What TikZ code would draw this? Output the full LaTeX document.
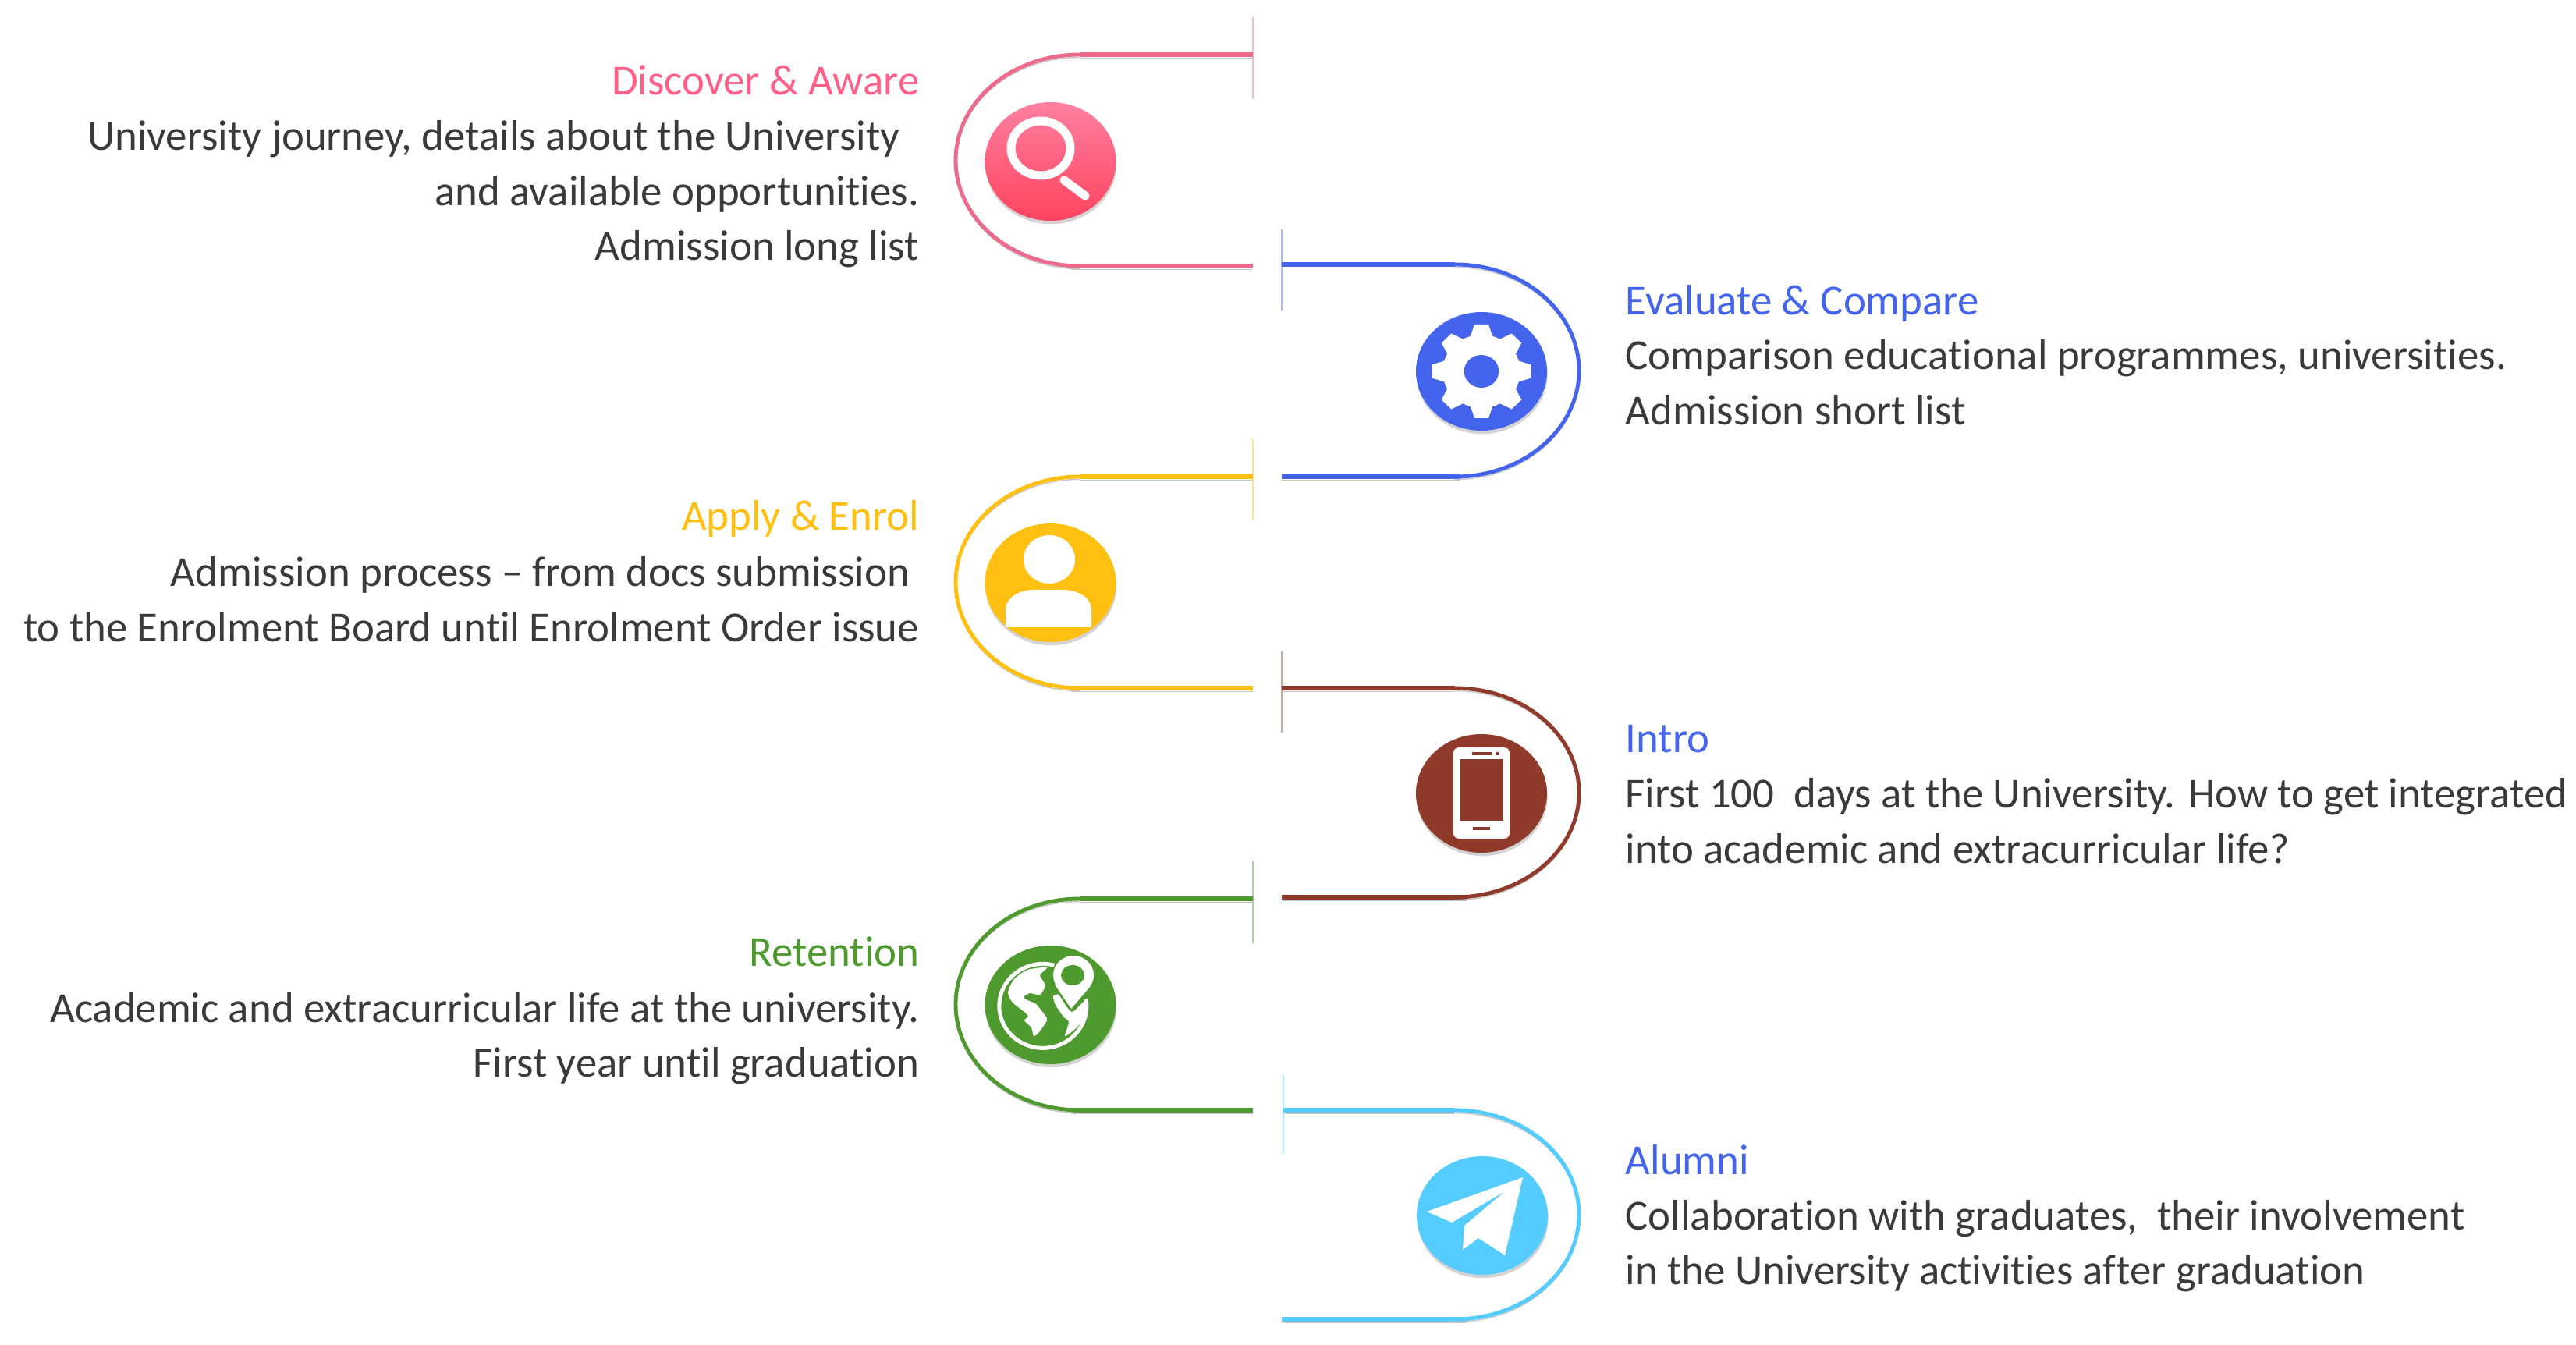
\documentclass[tikz,border=0pt]{standalone}
\usepackage{fontspec}
\setmainfont[Ligatures={TeX,NoCommon}]{Carlito}
\usetikzlibrary{shapes.geometric}
\usetikzlibrary{shadows}
\definecolor{pinkc}{HTML}{EC6A8B}
\definecolor{pinkt}{HTML}{FF6088}
\definecolor{bluec}{HTML}{4464EE}
\definecolor{yellowc}{HTML}{FFC012}
\definecolor{brownc}{HTML}{8F3A2A}
\definecolor{greenc}{HTML}{4F9A2F}
\definecolor{skyc}{HTML}{55CCFF}
\definecolor{bodyc}{HTML}{3A3A3A}
\tikzset{
  trackline/.style={line width=1.7pt, preaction={draw=black!22, transform canvas={yshift=-1.2pt}}},
  trackarc/.style={line width=1.4pt, preaction={draw=black!22, transform canvas={yshift=-1pt}}},
  tick/.style={line width=0.8pt, opacity=0.45},
  badge/.style={ellipse, minimum width=1.68cm, minimum height=1.52cm, inner sep=0pt,
    drop shadow={shadow xshift=0.2pt, shadow yshift=-1.2pt, opacity=0.35}},
  title/.style={inner sep=0pt, font=\fontsize{15.6}{20.1}\selectfont},
  lefttext/.style={inner sep=0pt, anchor=east, align=right, text=bodyc, font=\fontsize{15.6}{20.1}\selectfont},
  righttext/.style={inner sep=0pt, anchor=west, align=left, text=bodyc, font=\fontsize{15.6}{20.1}\selectfont}
}
\begin{document}
\begin{tikzpicture}
\useasboundingbox (0,0) rectangle (33.02,-17.24);

% Titles
\node at (11.79,-1.03) (disc) [title, anchor=east, text=pinkt] {Discover \& Aware};
\node at (20.83,-3.89) (eval) [title, anchor=west, text=bluec] {Evaluate \& Compare};
\node at (11.79,-6.65) (apply) [title, anchor=east, text=yellowc] {Apply \& Enrol};
\node at (20.83,-9.47) (intro) [title, anchor=west, text=bluec] {Intro};
\node at (11.79,-12.20) (ret) [title, anchor=east, text=greenc] {Retention};
\node at (20.83,-14.87) (alumni) [title, anchor=west, text=bluec] {Alumni};

% Texts
\node at (11.79,-2.49) (disctext) [lefttext] {University journey, details about the University\hspace*{0.25cm}\\and available opportunities.\\Admission long list};
\node at (20.83,-4.90) (evaltext) [righttext] {Comparison educational programmes, universities.\\Admission short list};
\node at (11.79,-7.68) (applytext) [lefttext] {Admission process – from docs submission\hspace*{0.12cm}\\to the Enrolment Board until Enrolment Order issue};
\node at (20.83,-10.52) (introtext) [righttext] {First 100\ \ days at the University. How to get integrated\\into academic and extracurricular life?};
\node at (11.79,-13.31) (rettext) [lefttext] {Academic and extracurricular life at the university.\\First year until graduation};
\node at (20.83,-15.97) (alumnitext) [righttext] {Collaboration with graduates,\ \ their involvement\\in the University activities after graduation};

% Badges
\node at (13.465,-2.07) (search) [badge, top color=pinkt!80!white, bottom color=pinkt!70!red] {};
\node at (18.99,-4.76) (gear) [badge, fill=bluec] {};
\node at (13.465,-7.47) (person) [badge, fill=yellowc] {};
\node at (18.99,-10.17) (phone) [badge, fill=brownc] {};
\node at (13.465,-12.88) (globe) [badge, fill=greenc] {};
\node at (19.00,-15.58) (plane) [badge, fill=skyc] {};

% Ends of the tracks
\coordinate (disca) at (16.06,-0.70);
\coordinate (discb) at (13.84,-0.70);
\coordinate (discc) at (13.73,-3.41);
\coordinate (discd) at (16.06,-3.41);
\coordinate (evala) at (16.43,-3.39);
\coordinate (evalb) at (18.65,-3.39);
\coordinate (evalc) at (18.72,-6.11);
\coordinate (evald) at (16.43,-6.11);
\coordinate (applya) at (16.06,-6.11);
\coordinate (applyb) at (13.84,-6.11);
\coordinate (applyc) at (13.73,-8.82);
\coordinate (applyd) at (16.06,-8.82);
\coordinate (introa) at (16.43,-8.82);
\coordinate (introb) at (18.65,-8.82);
\coordinate (introc) at (18.80,-11.50);
\coordinate (introd) at (16.43,-11.50);
\coordinate (reta) at (16.06,-11.52);
\coordinate (retb) at (13.84,-11.52);
\coordinate (retc) at (13.73,-14.23);
\coordinate (retd) at (16.06,-14.23);
\coordinate (alumnia) at (16.45,-14.23);
\coordinate (alumnib) at (18.65,-14.23);
\coordinate (alumnic) at (18.80,-16.91);
\coordinate (alumnid) at (16.43,-16.91);

% Tracks
\draw[trackline, pinkc] (disca) -- (discb) (discc) -- (discd);
\draw[trackarc, pinkc] (discb) arc[start angle=90, end angle=270, x radius=1.59, y radius=1.355];
\draw[tick, pinkc] (16.06,-0.22) -- (16.06,-1.27);
\draw[trackline, bluec] (evala) -- (evalb) (evalc) -- (evald);
\draw[trackarc, bluec] (evalb) arc[start angle=90, end angle=-90, x radius=1.59, y radius=1.36];
\draw[tick, bluec] (16.43,-2.94) -- (16.43,-3.98);
\draw[trackline, yellowc] (applya) -- (applyb) (applyc) -- (applyd);
\draw[trackarc, yellowc] (applyb) arc[start angle=90, end angle=270, x radius=1.59, y radius=1.355];
\draw[tick, yellowc] (16.06,-5.63) -- (16.06,-6.67);
\draw[trackline, brownc] (introa) -- (introb) (introc) -- (introd);
\draw[trackarc, brownc] (introb) arc[start angle=90, end angle=-90, x radius=1.59, y radius=1.34];
\draw[tick, brownc] (16.43,-8.35) -- (16.43,-9.39);
\draw[trackline, greenc] (reta) -- (retb) (retc) -- (retd);
\draw[trackarc, greenc] (retb) arc[start angle=90, end angle=270, x radius=1.59, y radius=1.355];
\draw[tick, greenc] (16.06,-11.03) -- (16.06,-12.09);
\draw[trackline, skyc] (alumnia) -- (alumnib) (alumnic) -- (alumnid);
\draw[trackarc, skyc] (alumnib) arc[start angle=90, end angle=-90, x radius=1.59, y radius=1.34];
\draw[tick, skyc] (16.45,-13.77) -- (16.45,-14.79);

% Magnifier
\draw[white, line width=0.11cm] (13.34,-1.90) ellipse [x radius=0.38, y radius=0.35];
\draw[white, line width=0.11cm, line cap=round] (13.64,-2.31) -- (13.91,-2.51);

% Cog
\begin{scope}[shift={(gear)}, xscale=1.06]
  \fill[white] (0,0) circle (0.47);
  \foreach \a in {0,45,...,315}
    \fill[white, rotate=\a] (-0.15,0.40) -- (-0.085,0.60) -- (0.085,0.60) -- (0.15,0.40) -- cycle;
  \fill[bluec] (0,0) circle (0.21);
\end{scope}

% Person
\fill[white] (13.45,-7.17) ellipse [x radius=0.33, y radius=0.31];
\fill[white] (12.89,-8.04) -- (12.89,-7.82) .. controls (12.89,-7.65) and (13.08,-7.56) .. (13.25,-7.56)
  -- (13.63,-7.56) .. controls (13.80,-7.56) and (13.99,-7.65) .. (13.99,-7.82) -- (13.99,-8.04) -- cycle;

% Handset
\fill[white, rounded corners=2pt] (18.63,-9.58) rectangle (19.35,-10.75);
\fill[brownc] (18.72,-9.73) rectangle (19.27,-10.52);
\fill[brownc] (18.87,-9.64) rectangle (19.12,-9.68);
\fill[brownc] (19.18,-9.64) rectangle (19.21,-9.68);
\fill[brownc] (18.88,-10.60) rectangle (19.10,-10.64);

% Earth with a map pin
\draw[white, line width=0.05cm] (13.92,-12.80) arc[start angle=10, end angle=-285, x radius=0.56, y radius=0.54];
\fill[white] plot[smooth cycle, tension=0.4] coordinates {(12.92,-12.72) (12.98,-12.85) (13.13,-12.97) (13.18,-13.03)
  (13.13,-13.08) (13.22,-13.17) (13.25,-13.28) (13.32,-13.23) (13.42,-13.08) (13.40,-13.02) (13.28,-12.87)
  (13.17,-12.82) (13.12,-12.78) (13.20,-12.73) (13.33,-12.75) (13.40,-12.63) (13.33,-12.50) (13.42,-12.40)
  (13.17,-12.43) (13.00,-12.55)};
\fill[white] plot[smooth cycle, tension=0.4] coordinates {(13.50,-12.77) (13.57,-12.75) (13.67,-12.90) (13.75,-12.97)
  (13.92,-12.82) (13.88,-13.07) (13.77,-13.20) (13.65,-13.28) (13.70,-13.10) (13.63,-13.03) (13.53,-12.88)};
\fill[white] (13.76,-12.50) ellipse [x radius=0.26, y radius=0.25];
\fill[white] (13.52,-12.62) -- (13.73,-12.93) -- (13.97,-12.65) -- cycle;
\fill[greenc] (13.75,-12.50) ellipse [x radius=0.15, y radius=0.13];

% Paper plane
\fill[white] (19.52,-15.09) -- (18.29,-15.53) -- (18.61,-15.67) -- (19.29,-15.27) -- (18.77,-15.71)
  -- (18.75,-16.02) -- (18.95,-15.87) -- (19.29,-16.09) -- cycle;
\end{tikzpicture}
\end{document}
